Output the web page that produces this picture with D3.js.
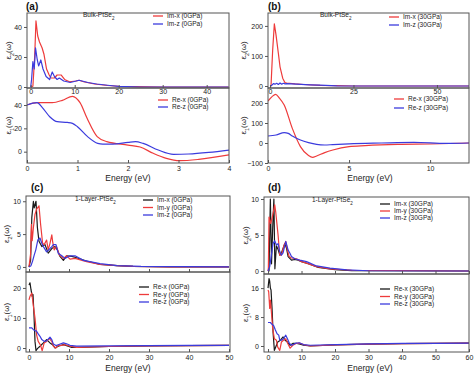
<!DOCTYPE html>
<html>
<head>
<meta charset="utf-8">
<script src="https://cdn.jsdelivr.net/npm/d3@7"></script>
<style>
  body { margin: 0; background: #fff; }
  svg { font-family: "Liberation Sans", Arial, sans-serif; }
  .frame { fill: none; stroke: #555; stroke-width: 1; }
  .tick line { stroke: #555; }
  .tick text { fill: #222; font-size: 7px; }
  .domain { display: none; }
</style>
</head>
<body>
<script>
// Data: [energy eV, epsilon]

// (a) Bulk PtSe2, 0 GPa
const aImX = [[0,0],[0.5,0.5],[0.9,20],[1.2,44],[1.6,34],[2.0,30],[2.6,26],[3.0,22],[3.6,12],[4.2,8],[4.6,6],[5.4,6],[6.0,8],[6.9,8],[7.7,5],[8.8,3.5],[10.3,4],[11,4.5],[12,3.5],[14.5,2],[17.5,1],[20,0.5],[24,0.2],[30,0],[45,0]];
const aImZ = [[0,0],[0.2,5],[0.5,17],[0.8,12],[1.1,26],[1.5,18],[1.8,14],[2.3,18],[2.8,12],[3.5,7],[4.3,5],[4.9,10],[5.4,7],[6.0,5],[6.5,6],[7.5,4],[9,3],[11,4.5],[13,3],[15,2],[18,1],[20,0.4],[25,0],[45,0]];
const aReX = [[0,40],[0.2,42],[0.5,42],[0.7,44],[0.9,47.5],[1.05,42],[1.19,28.6],[1.39,12.9],[1.58,8.6],[2.0,5.7],[2.24,4.0],[2.5,-1.4],[2.76,-5.7],[3.02,-7.7],[3.4,-6.6],[4.0,-2.8]];
const aReZ = [[0,40],[0.2,42],[0.3,38],[0.45,30],[0.6,25.7],[0.8,25.1],[0.9,24.3],[1.0,21.4],[1.2,12.9],[1.4,7.1],[1.5,6.5],[1.7,6.5],[2.0,8],[2.15,8.6],[2.3,7.1],[2.6,1.4],[2.9,-2.3],[3.2,-2],[3.6,-0.6],[4.0,1.4]];

// (b) Bulk PtSe2, 30 GPa
const bImX = [[0,0],[0.3,0],[0.8,120],[1.3,207],[1.8,170],[2.5,109],[3.0,64],[3.8,26],[4.5,11],[5,10],[7.5,7],[10,5],[15,2],[20,1],[25,0],[60,0]];
const bImZ = [[0,0],[0.5,2],[1,8],[1.5,6],[2,9],[2.5,5],[3,10],[3.5,6],[4,9],[4.5,7],[5,8],[8,6],[12,4],[15,3],[20,0.5],[25,0],[60,0]];
const bReX = [[0,210],[0.25,232],[0.47,243],[0.7,225],[1.0,190],[1.5,73],[2.0,-18],[2.5,-63],[2.75,-72],[3.0,-65],[3.5,-48],[4.0,-35],[5,-18],[6,-13],[8,-7],[10,-5],[12.4,0]];
const bReZ = [[0,35],[0.5,40],[1.0,52],[1.25,48],[1.5,35],[2.0,15],[2.5,2],[3.0,-7],[3.5,-10],[4,-8],[5,-4],[7,0],[9,3],[11,-2],[12.4,0]];

// (c) 1-layer PtSe2, 0 GPa
const cImX = [[0,0],[0.4,1],[0.7,7.5],[1.1,10],[1.3,9],[1.75,10],[2.1,6],[2.5,3.9],[3.2,3.1],[4.0,3.4],[4.8,2.1],[5.7,2.8],[6.5,3.1],[7.1,2.6],[7.75,1.6],[8.6,1.0],[9.4,1.7],[10.7,1.6],[11.9,1.4],[14.4,0.9],[17.75,0.4],[22,0.2],[26,0.1],[35,0.02],[50,0]];
const cImY = [[0,0],[0.4,2],[0.6,6.5],[0.8,4],[1.1,6],[1.5,8],[1.9,8.8],[2.5,9.3],[2.9,6.5],[3.4,3.6],[3.8,3.4],[4.4,4.1],[4.8,2.6],[5.25,3.6],[5.7,4.9],[5.9,3.9],[6.3,2.6],[6.9,3.1],[7.6,1.8],[8.6,1.3],[9.4,1.7],[10.25,1.2],[11.5,1.3],[14.4,0.8],[17.75,0.4],[22,0.2],[26,0.1],[35,0.02],[50,0]];
const cImZ = [[0,0],[0.5,0.2],[0.9,0.9],[1.3,1.8],[1.7,2.6],[2.2,4.1],[2.75,4.4],[3.2,3.6],[3.6,3.1],[4.4,2.3],[5.1,2.7],[5.7,3.1],[6.1,3.4],[6.75,3.4],[7.3,2.1],[8.2,1.7],[9,1.3],[10.25,1.7],[11.5,1.7],[13.6,1.0],[17.75,0.5],[22,0.2],[28,0.08],[50,0.02]];
const cReX = [[0,21],[0.25,21.7],[0.5,19.4],[0.8,17.2],[1.0,17.8],[1.25,11],[1.5,2.2],[1.75,-0.9],[2.1,-0.2],[2.75,0.6],[3.6,1.7],[4.4,2.8],[5.25,1.7],[5.9,1.1],[6.5,0],[7.3,0.6],[8.6,1.1],[9.4,0.8],[10.7,0.2],[12.75,0.2],[20,0.5],[30,0.7],[40,0.8],[50,0.9]];
const cReY = [[0,16],[0.25,17.2],[0.7,18.3],[1.1,13.9],[1.5,10],[1.9,4.4],[2.3,2.2],[2.9,0.9],[3.3,-0.9],[3.8,1.7],[4.4,2.2],[5.1,3.1],[5.7,2.2],[6.1,0.6],[6.7,0],[7.3,0.9],[8.2,0.9],[9,1.1],[10.25,0.6],[11.9,0.2],[20,0.5],[30,0.7],[40,0.8],[50,0.9]];
const cReZ = [[0,6.7],[0.7,6.7],[1.1,6.1],[1.5,5.8],[1.9,5.6],[2.3,4.7],[2.75,3.9],[3.2,2.8],[3.8,2.2],[4.4,2.4],[5.25,3.6],[5.7,2.8],[6.1,1.3],[6.75,0.8],[7.3,1.1],[8.6,1.7],[9.4,1.4],[10.25,0.9],[11.9,0.6],[20,0.7],[30,0.8],[40,0.9],[50,0.9]];

// (d) 1-layer PtSe2, 30 GPa
const dImX = [[0,0],[0.3,0],[0.7,10],[1.05,1],[1.4,6],[1.75,10],[2.05,0.3],[2.5,3.5],[3.0,3.0],[3.5,2.2],[4.0,2.5],[5,3.8],[5.5,3.2],[6,2],[7,1.5],[8,1.6],[9,1.5],[10,1.3],[12,1],[15,0.5],[20,0.2],[25,0.05],[60,0]];
const dImY = [[0,0],[0.1,0.4],[0.3,7.5],[0.8,6.6],[1.3,7.5],[2.0,9.2],[2.3,8.2],[3.0,5],[3.5,2.2],[4.0,2.2],[4.8,3.6],[5.3,4.1],[5.8,2.9],[6.3,2.0],[7.0,1.8],[8.5,1.7],[10,1.3],[11.5,1.1],[14.5,0.6],[18.5,0.3],[25,0.1],[60,0]];
const dImZ = [[0,0],[0.5,0.6],[1.0,2.2],[1.5,3.8],[2.0,4.2],[2.5,3.6],[3.0,3.8],[3.5,2.7],[4.0,2.2],[4.5,2.5],[5.3,4.1],[6.0,2.9],[6.5,2.5],[7.0,2.0],[8.0,1.7],[9.5,1.5],[11.5,1.3],[14.5,0.7],[18.5,0.4],[23.5,0.15],[30,0.03],[60,0]];
const dReX = [[0,16],[0.3,18.6],[0.5,17.9],[0.7,16],[0.9,15.5],[1.2,10.4],[1.5,3.9],[1.9,-1.2],[2.3,-0.3],[2.9,1.1],[3.7,1.6],[4.5,2.5],[5.1,1.6],[5.8,1.1],[6.6,0.2],[7.4,0.7],[8.6,0.7],[9.6,0.5],[10.6,0.2],[12.6,0],[20,0.3],[30,0.5],[40,0.65],[50,0.75],[60,0.8]];
const dReY = [[0,15.5],[0.2,15],[0.4,12],[0.5,10.4],[0.7,12.7],[1.0,9.5],[1.4,4.8],[1.9,2],[2.5,1.6],[2.9,-0.3],[3.5,-1.2],[4.0,1.1],[4.6,1.6],[5.3,2.0],[5.9,0.7],[6.6,-0.6],[7.4,0.2],[8.4,0.7],[9.4,0.8],[10.6,0.4],[12.6,0],[20,0.3],[30,0.5],[40,0.65],[50,0.75],[60,0.8]];
const dReZ = [[0,6.5],[0.7,6.5],[1.2,6.0],[1.7,5.6],[2.2,4.4],[2.7,3.4],[3.2,3.0],[3.5,1.6],[4.0,1.6],[4.6,2.0],[5.3,3.0],[5.8,2.0],[6.4,0.7],[7.1,0.2],[8.1,0.7],[9.3,0.9],[10.6,0.4],[12.6,0.2],[20.5,0.4],[30.4,0.6],[40.3,0.7],[50,0.75],[60,0.8]];

// Tick values
const aUpYTicks = [0, 20, 40], aUpXTicks = [0, 10, 20, 30, 40];
const aLoYTicks = [0, 20, 40], aLoXTicks = [0, 1, 2, 3, 4];
const bUpYTicks = [0, 100, 200], bUpXTicks = [0, 25, 50];
const bLoYTicks = [-100, 0, 100, 200], bLoXTicks = [0, 5, 10];
const cUpYTicks = [0, 5, 10], cLoYTicks = [0, 10, 20], cXTicks = [0, 10, 20, 30, 40, 50];
const dUpYTicks = [0, 5, 10], dLoYTicks = [0, 8, 16], dXTicks = [0, 10, 20, 30, 40, 50, 60];

const RED = '#ee3b3b', BLUE = '#3b3bdd', BLACK = '#1a1a1a';

const svg = d3.select('body').append('svg')
    .attr('width', 474)
    .attr('height', 374);

let clipId = 0;

// Draw one sub-plot (box + axes + lines)
const drawPlot = (p) => {
    const x = d3.scaleLinear().domain(p.xDomain).range([p.left, p.right]);
    const y = d3.scaleLinear().domain(p.yDomain).range([p.bottom, p.top]);

    const id = 'clip' + (clipId++);
    svg.append('clipPath').attr('id', id)
        .append('rect')
        .attr('x', p.left).attr('y', p.top)
        .attr('width', p.right - p.left).attr('height', p.bottom - p.top);

    const g = svg.append('g').attr('clip-path', `url(#${id})`);
    const line = d3.line()
        .x(d => x(d[0]))
        .y(d => y(d[1]))
        .curve(p.smooth ? d3.curveMonotoneX : d3.curveLinear);

    p.series.forEach(s => {
        g.append('path')
            .datum(s.data)
            .attr('fill', 'none')
            .attr('stroke', s.color)
            .attr('stroke-width', 1.2)
            .attr('stroke-linejoin', 'round')
            .attr('d', line);
    });

    // axes: x ticks point inward, labels hug the axis line
    svg.append('g')
        .attr('transform', `translate(0,${p.bottom})`)
        .call(d3.axisBottom(x).tickValues(p.xTicks).tickSizeInner(-3).tickSizeOuter(0)
            .tickPadding(p.xPad).tickFormat(p.xLabels ? d3.format('d') : ''));
    svg.append('g')
        .attr('transform', `translate(${p.left},0)`)
        .call(d3.axisLeft(y).tickValues(p.yTicks).tickSize(3).tickPadding(2)
            .tickFormat(d3.format('d')));

    svg.append('rect')
        .attr('class', 'frame')
        .attr('x', p.left).attr('y', p.top)
        .attr('width', p.right - p.left).attr('height', p.bottom - p.top);

    // epsilon label
    const lab = svg.append('text')
        .attr('transform', `translate(${p.labX},${(p.top + p.bottom) / 2}) rotate(-90)`)
        .attr('text-anchor', 'middle')
        .style('font-size', '8px')
        .attr('fill', '#222');
    lab.append('tspan').text('ε');
    lab.append('tspan').attr('baseline-shift', 'sub').style('font-size', '5.5px').text(p.sub);
    lab.append('tspan').text('(ω)');

    // legend
    p.series.forEach((s, i) => {
        const ly = p.legY + i * p.legDy;
        svg.append('line')
            .attr('x1', p.legX).attr('x2', p.legX + 10)
            .attr('y1', ly).attr('y2', ly)
            .attr('stroke', s.color).attr('stroke-width', 1.3);
        svg.append('text')
            .attr('x', p.legX + 14).attr('y', ly)
            .attr('dy', '0.35em')
            .style('font-size', '6.5px')
            .attr('fill', '#222')
            .text(s.name);
    });
};

const addTitle = (tx, ty, label) => {
    const t = svg.append('text').attr('x', tx).attr('y', ty)
        .style('font-size', '6.5px').attr('fill', '#222');
    t.append('tspan').text(label);
    t.append('tspan').attr('baseline-shift', 'sub').style('font-size', '4.5px').text('2');
};

const addPanel = (letter, px, py, ex, ey) => {
    svg.append('text').attr('x', px).attr('y', py)
        .style('font-size', '10px').style('font-weight', 'bold')
        .attr('fill', '#111').text(letter);
    svg.append('text').attr('x', ex).attr('y', ey)
        .attr('text-anchor', 'middle')
        .style('font-size', '8.5px').attr('fill', '#222')
        .text('Energy (eV)');
};

// (a)
drawPlot({ left: 27, right: 229, top: 13, bottom: 88, xDomain: [-0.84, 45.07], yDomain: [-0.67, 49.3],
    xTicks: aUpXTicks, yTicks: aUpYTicks, xLabels: true, xPad: 1, labX: 11, sub: '2',
    legX: 153, legY: 16, legDy: 8,
    series: [{ data: aImX, color: RED, name: 'Im-x (0GPa)' }, { data: aImZ, color: BLUE, name: 'Im-z (0GPa)' }] });
drawPlot({ left: 27, right: 229, top: 88, bottom: 163, xDomain: [0, 4], yDomain: [-9.7, 54.6], smooth: true,
    xTicks: aLoXTicks, yTicks: aLoYTicks, xLabels: true, xPad: 3, labX: 11, sub: '1',
    legX: 158, legY: 100, legDy: 7,
    series: [{ data: aReX, color: RED, name: 'Re-x (0GPa)' }, { data: aReZ, color: BLUE, name: 'Re-z (0GPa)' }] });
addTitle(83, 17, 'Bulk-PtSe');
addPanel('(a)', 26, 10, 128, 181);

// (b)
drawPlot({ left: 268, right: 469, top: 13, bottom: 88, xDomain: [-0.6, 59.6], yDomain: [-6.7, 243],
    xTicks: bUpXTicks, yTicks: bUpYTicks, xLabels: true, xPad: 1, labX: 246, sub: '2',
    legX: 389, legY: 17, legDy: 8,
    series: [{ data: bImX, color: RED, name: 'Im-x (30GPa)' }, { data: bImZ, color: BLUE, name: 'Im-z (30GPa)' }] });
drawPlot({ left: 268, right: 469, top: 88, bottom: 163, xDomain: [0, 12.4], yDomain: [-100, 275], smooth: true,
    xTicks: bLoXTicks, yTicks: bLoYTicks, xLabels: true, xPad: 3, labX: 246, sub: '1',
    legX: 394, legY: 99, legDy: 9,
    series: [{ data: bReX, color: RED, name: 'Re-x (30GPa)' }, { data: bReZ, color: BLUE, name: 'Re-z (30GPa)' }] });
addTitle(320, 17, 'Bulk-PtSe');
addPanel('(b)', 268, 10, 370, 181);

// (c)
drawPlot({ left: 26, right: 230, top: 196, bottom: 272, xDomain: [-0.75, 50.25], yDomain: [-0.77, 10.8],
    xTicks: cXTicks, yTicks: cUpYTicks, xLabels: false, xPad: 1, labX: 9, sub: '2',
    legX: 143, legY: 200, legDy: 7.5,
    series: [{ data: cImX, color: BLACK, name: 'Im-x (0GPa)' }, { data: cImY, color: RED, name: 'Im-y (0GPa)' }, { data: cImZ, color: BLUE, name: 'Im-z (0GPa)' }] });
drawPlot({ left: 26, right: 230, top: 272, bottom: 352, xDomain: [-0.75, 50.25], yDomain: [-1.33, 25.3],
    xTicks: cXTicks, yTicks: cLoYTicks, xLabels: true, xPad: 3, labX: 9, sub: '1',
    legX: 139, legY: 287, legDy: 7.5,
    series: [{ data: cReX, color: BLACK, name: 'Re-x (0GPa)' }, { data: cReY, color: RED, name: 'Re-y (0GPa)' }, { data: cReZ, color: BLUE, name: 'Re-z (0GPa)' }] });
addTitle(75, 201, '1-Layer-PtSe');
addPanel('(c)', 31, 191, 128, 371);

// (d)
drawPlot({ left: 264, right: 469, top: 197, bottom: 274, xDomain: [-1.2, 60], yDomain: [-0.42, 10.28],
    xTicks: dXTicks, yTicks: dUpYTicks, xLabels: false, xPad: 1, labX: 248, sub: '2',
    legX: 380, legY: 204, legDy: 7,
    series: [{ data: dImX, color: BLACK, name: 'Im-x (30GPa)' }, { data: dImY, color: RED, name: 'Im-y (30GPa)' }, { data: dImZ, color: BLUE, name: 'Im-z (30GPa)' }] });
drawPlot({ left: 264, right: 469, top: 274, bottom: 352, xDomain: [-1.2, 60], yDomain: [-1.66, 19.9],
    xTicks: dXTicks, yTicks: dLoYTicks, xLabels: true, xPad: 3, labX: 248, sub: '1',
    legX: 380, legY: 289, legDy: 7.5,
    series: [{ data: dReX, color: BLACK, name: 'Re-x (30GPa)' }, { data: dReY, color: RED, name: 'Re-y (30GPa)' }, { data: dReZ, color: BLUE, name: 'Re-z (30GPa)' }] });
addTitle(312, 202, '1-Layer-PtSe');
addPanel('(d)', 268, 191, 370, 371);
</script>
</body>
</html>
